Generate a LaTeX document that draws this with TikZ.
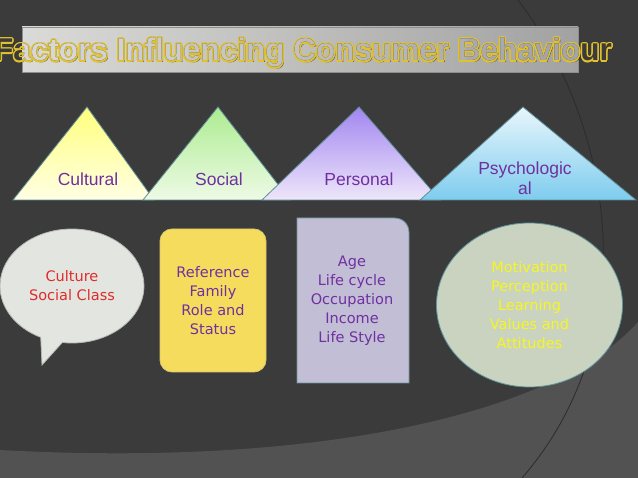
\documentclass[tikz,border=0pt]{standalone}
\usepackage{fontspec}
\setmainfont{Liberation Sans}
\newfontfamily\comicfont{DejaVu Sans}
\usepackage{tikz}
\usetikzlibrary{shapes.geometric, shapes.callouts}
\definecolor{bgDark}{HTML}{3B3B3B}
\definecolor{bgLight}{HTML}{525252}
\definecolor{arcLine}{HTML}{2C2C2C}
\definecolor{boxL}{HTML}{DADAD8}
\definecolor{boxR}{HTML}{A2A2A2}
\definecolor{boxEdge}{HTML}{8E8E8E}
\definecolor{titleGold}{HTML}{E2C22C}
\definecolor{triEdge}{HTML}{5F8F98}
\definecolor{yellowTop}{HTML}{FFFF7C}
\definecolor{yellowBot}{HTML}{FFFFE4}
\definecolor{greenTop}{HTML}{ACEC90}
\definecolor{greenBot}{HTML}{EEFAE6}
\definecolor{purpleTop}{HTML}{A286F0}
\definecolor{purpleBot}{HTML}{EEE6FA}
\definecolor{blueTop}{HTML}{E8F6FC}
\definecolor{blueBot}{HTML}{7ECCEE}
\definecolor{labelPurple}{HTML}{7030A0}
\definecolor{cultureRed}{HTML}{E22A2A}
\definecolor{motYellow}{HTML}{F6F622}
\definecolor{bubbleFill}{HTML}{E3E6E0}
\definecolor{bubbleEdge}{HTML}{B4B8B0}
\definecolor{refFill}{HTML}{F6DC5C}
\definecolor{refEdge}{HTML}{D8C86C}
\definecolor{ageFill}{HTML}{C2BED6}
\definecolor{ageEdge}{HTML}{6F929C}
\definecolor{motFill}{HTML}{C9D3BF}
\definecolor{motEdge}{HTML}{5E949C}

\newcommand\titletext{Factors Influencing Consumer Behaviour}

\begin{document}
\begin{tikzpicture}[
  x=1pt, y=-1pt,
  titlefont/.style={font=\fontsize{31.5}{36}\selectfont\bfseries, inner sep=0pt, anchor=base},
  trilabel/.style={font=\fontsize{17.5}{20}\selectfont, text=labelPurple, align=center, inner sep=0pt},
  itemtext/.style={font=\comicfont\fontsize{14.5}{19}\selectfont, align=center, inner sep=0pt},
  factor/.style={draw=triEdge, line width=0.8pt}
]
\useasboundingbox (0,0) rectangle (638,478);

% slide background
\fill[bgDark] (0,0) rectangle (638,478);
\fill[bgLight] (0,450) .. controls (330,468) and (560,410) .. (638,322) -- (638,478) -- (0,478) -- cycle;
\draw[arcLine, line width=0.8pt] (518,0) .. controls (610,120) and (650,330) .. (522,478);

% title bar
\node[rectangle, minimum width=556pt, minimum height=45pt, left color=boxL, right color=boxR, draw=boxEdge, line width=0.6pt] (titlebox) at (300,49.5) {};
\node[titlefont, text=black, opacity=0.6] (titleshadow) at (304.5,62.5) {\titletext};
\foreach \a in {0,30,...,330}
  \node[titlefont, text=titleGold, shift={(\a:1.5)}] (titleglow\a) at (303,61) {\titletext};
\node[titlefont, text=bgDark] (title) at (303,61) {\titletext};
\foreach \i in {0,...,9} {
  \pgfmathsetmacro\stripx{22+55.6*\i}
  \pgfmathtruncatemacro\pct{95-10*\i}
  \begin{scope}
    \clip (\stripx,27.5) rectangle ++(55.6,44);
    \node[titlefont, text=boxL!\pct!boxR] (titlefill\i) at (303,61) {\titletext};
  \end{scope}
}

% the four factors
\shade[factor, top color=yellowTop, bottom color=yellowBot] (13,200) -- (87,107) -- (154,200) -- cycle;
\shade[factor, top color=greenTop, bottom color=greenBot] (143,200) -- (218,107) -- (290,200) -- cycle;
\shade[factor, top color=purpleTop, bottom color=purpleBot] (262,200) -- (359,107) -- (440,200) -- cycle;
\shade[factor, top color=blueTop, bottom color=blueBot] (420,200) -- (523,107) -- (636,200) -- cycle;

\node[trilabel] (cultural) at (88,179) {Cultural};
\node[trilabel] (social) at (219,179) {Social};
\node[trilabel] (personal) at (359,179) {Personal};
\node[trilabel] (psycho) at (525,178) {Psychologic\\al};

% what each factor holds
\node[ellipse callout, fill=bubbleFill, draw=bubbleEdge, line width=0.8pt,
  minimum width=144pt, minimum height=114pt, inner sep=0pt,
  callout absolute pointer={(42,365)}, callout pointer arc=18,
  itemtext, text=cultureRed] (culture) at (72,286) {Culture\\Social Class};

\node[rectangle, rounded corners=12pt, fill=refFill, draw=refEdge, line width=0.8pt,
  minimum width=106pt, minimum height=143pt, itemtext, text=labelPurple] (reference) at (213,300.5)
  {Reference\\Family\\Role and\\Status};

\filldraw[fill=ageFill, draw=ageEdge, line width=0.8pt]
  (297,383) -- (297,218) -- (394,218) .. controls (403,218) and (409,224) .. (409,233) -- (409,383) -- cycle;
\node[itemtext, text=labelPurple] (age) at (352,301) {Age\\Life cycle\\Occupation\\Income\\Life Style};

\node[ellipse, fill=motFill, draw=motEdge, line width=0.8pt, minimum width=186pt, minimum height=164pt,
  inner sep=0pt, itemtext, text=motYellow] (motivation) at (529.5,305)
  {Motivation\\Perception\\Learning\\Values and\\Attitudes};
\end{tikzpicture}
\end{document}
